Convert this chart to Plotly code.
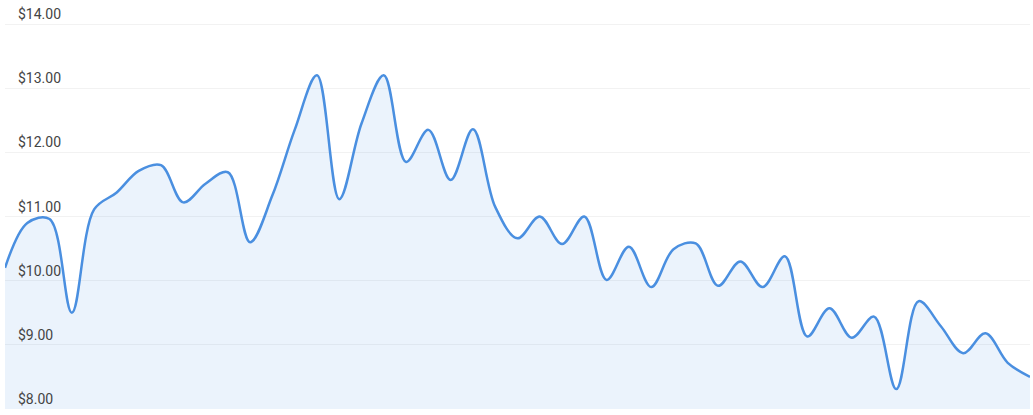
import plotly.graph_objects as go

# price series, one point per period
periods = list(range(47))
prices = [10.20, 10.90, 10.96, 9.50, 11.11, 11.37, 11.71, 11.80, 11.22, 11.51,
          11.69, 10.60, 11.33, 12.35, 13.20, 11.27, 12.45, 13.20, 11.85, 12.35,
          11.57, 12.36, 11.15, 10.66, 11.00, 10.57, 11.00, 10.01, 10.53, 9.90,
          10.49, 10.58, 9.92, 10.30, 9.90, 10.38, 9.13, 9.57, 9.11, 9.44,
          8.31, 9.68, 9.29, 8.87, 9.18, 8.72, 8.50]

tick_vals = [8, 9, 10, 11, 12, 13, 14]
tick_text = ['$8.00', '$9.00', '$10.00', '$11.00', '$12.00', '$13.00', '$14.00']

fig = go.Figure()
fig.add_trace(go.Scatter(
    x=periods,
    y=prices,
    mode='lines',
    line=dict(color='#4a8fe0', width=2.5, shape='spline', smoothing=1),
    fill='tozeroy',
    fillcolor='rgba(74,143,224,0.11)',
    hoverinfo='skip',
))

fig.update_layout(
    width=1033,
    height=415,
    margin=dict(l=5, r=3, t=0, b=6, autoexpand=False),
    paper_bgcolor='white',
    plot_bgcolor='white',
    showlegend=False,
    font=dict(family='Roboto', size=14, color='#777777'),
)
fig.update_xaxes(range=[0, 46], visible=False, automargin=False)
fig.update_yaxes(
    range=[8, 14.374],
    tickvals=tick_vals,
    ticktext=tick_text,
    ticklabelposition='inside top',
    ticklabelstandoff=10,
    gridcolor='#f2f2f2',
    gridwidth=1,
    zeroline=False,
    showline=False,
    automargin=False,
)

# drop the browser's default 8px body margin so the chart sits at the page corner
fig.write_html("out.html",
               config={'displayModeBar': False},
               post_script="document.body.style.margin='0';")
